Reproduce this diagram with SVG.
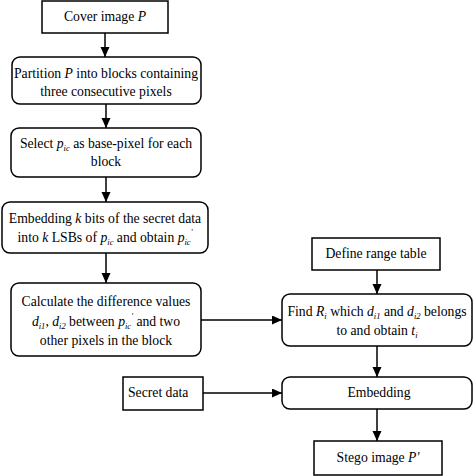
<svg xmlns="http://www.w3.org/2000/svg" width="474" height="476" viewBox="0 0 474 476">
<defs>
<marker id="ah" markerUnits="userSpaceOnUse" markerWidth="12" markerHeight="10" refX="10" refY="4.5" orient="auto">
<path d="M0,0 L10,4.5 L0,9 Z" fill="#000"/>
</marker>
<style>
.b{fill:#fff;stroke:#000;stroke-width:1.5}
.t{font-family:"Liberation Serif","Times New Roman",serif;font-size:13.7px;fill:#000;text-anchor:middle}
.i{font-style:italic}
.s{font-size:8.5px;font-style:italic}
.c{stroke:#000;stroke-width:1.5;fill:none;marker-end:url(#ah)}
</style>
</defs>
<rect width="474" height="476" fill="#fff"/>
<g id="cover">
<rect class="b" x="42" y="1" width="126" height="32"/>
<text class="t" x="105" y="21">Cover image <tspan class="i">P</tspan></text>
</g>
<g id="partition">
<rect class="b" x="12" y="57" width="189" height="47" rx="8"/>
<text class="t" x="106" y="78">Partition <tspan class="i">P</tspan> into blocks containing</text>
<text class="t" x="106" y="96">three consecutive pixels</text>
</g>
<g id="select">
<rect class="b" x="11" y="128" width="190" height="49" rx="8"/>
<text class="t" x="106" y="148">Select <tspan class="i">p</tspan><tspan class="s" dy="3">ic</tspan><tspan dy="-3"> as base-pixel for each</tspan></text>
<text class="t" x="106" y="166">block</text>
</g>
<g id="embedk">
<rect class="b" x="2" y="202" width="206" height="51" rx="8"/>
<text class="t" x="105" y="223">Embedding <tspan class="i">k</tspan> bits of the secret data</text>
<text class="t" x="105" y="242">into <tspan class="i">k</tspan> LSBs of <tspan class="i">p</tspan><tspan class="s" dy="3">ic</tspan><tspan dy="-3"> and obtain </tspan><tspan class="i">p</tspan><tspan class="s" dy="3">ic</tspan><tspan class="s" dy="-10">'</tspan></text>
</g>
<g id="calculate">
<rect class="b" x="11" y="283" width="190" height="73" rx="8"/>
<text class="t" x="106" y="306">Calculate the difference values</text>
<text class="t" x="106" y="326"><tspan class="i">d</tspan><tspan class="s" dy="3">i1</tspan><tspan dy="-3">, </tspan><tspan class="i">d</tspan><tspan class="s" dy="3">i2</tspan><tspan dy="-3"> between </tspan><tspan class="i">p</tspan><tspan class="s" dy="3">ic</tspan><tspan class="s" dy="-10">'</tspan><tspan dy="7"> and two</tspan></text>
<text class="t" x="106" y="345">other pixels in the block</text>
</g>
<g id="define">
<rect class="b" x="312" y="238" width="128" height="32"/>
<text class="t" x="376" y="258">Define range table</text>
</g>
<g id="find">
<rect class="b" x="282" y="294" width="190" height="52" rx="8"/>
<text class="t" x="377" y="316">Find <tspan class="i">R</tspan><tspan class="s" dy="3">i</tspan><tspan dy="-3"> which </tspan><tspan class="i">d</tspan><tspan class="s" dy="3">i1</tspan><tspan dy="-3"> and </tspan><tspan class="i">d</tspan><tspan class="s" dy="3">i2</tspan><tspan dy="-3"> belongs</tspan></text>
<text class="t" x="377" y="335">to and obtain <tspan class="i">t</tspan><tspan class="s" dy="3">i</tspan></text>
</g>
<g id="secret">
<rect class="b" x="123" y="377" width="80" height="33"/>
<text class="t" x="128" y="397" style="text-anchor:start">Secret data</text>
</g>
<g id="embedding">
<rect class="b" x="282" y="377" width="190" height="32" rx="8"/>
<text class="t" x="379" y="397">Embedding</text>
</g>
<g id="stego">
<rect class="b" x="314" y="441" width="128" height="34"/>
<text class="t" x="378" y="462">Stego image <tspan class="i">P'</tspan></text>
</g>
<g id="connectors">
<line class="c" x1="105" y1="33" x2="105" y2="57"/>
<line class="c" x1="106" y1="104" x2="106" y2="128"/>
<line class="c" x1="106" y1="177" x2="106" y2="202"/>
<line class="c" x1="106" y1="253" x2="106" y2="283"/>
<line class="c" x1="201" y1="320" x2="282" y2="320"/>
<line class="c" x1="377" y1="270" x2="377" y2="294"/>
<line class="c" x1="377" y1="346" x2="377" y2="377"/>
<line class="c" x1="203" y1="393" x2="282" y2="393"/>
<line class="c" x1="377" y1="409" x2="377" y2="441"/>
</g>
</svg>
